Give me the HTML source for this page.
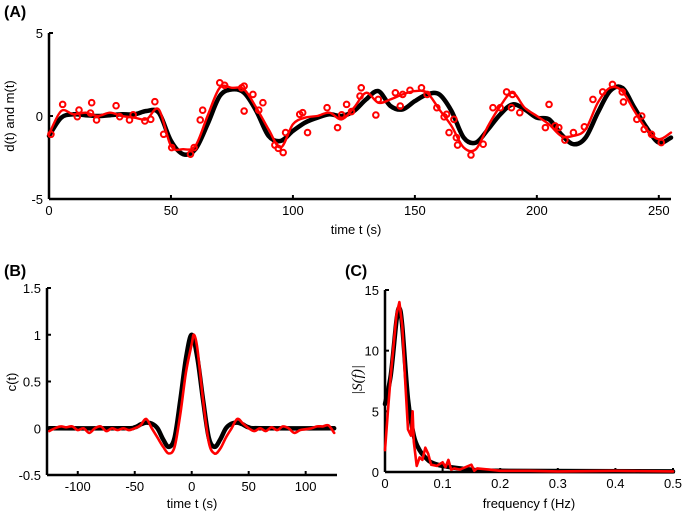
<!DOCTYPE html>
<html><head><meta charset="utf-8"><style>
body{margin:0;background:#fff}
svg{display:block;font-family:"Liberation Sans",Arial,sans-serif}
</style></head><body>
<svg id="c" width="685" height="520" viewBox="0 0 685 520"></svg>
<script>
// ---- Panel A data ----
const aBlackT=[0,5,10,15,20,25,30,35,40,45,50,55,60,65,70,75,80,85,90,95,100,105,110,115,120,125,130,135,140,145,150,155,160,165,170,175,180,185,190,195,200,205,210,215,220,225,230,235,240,245,250,255];
const aBlackV=[-1.2,-0.1,0.1,0.05,0,0.05,0.1,0.1,0.3,0.2,-1.5,-2.3,-2.0,-0.5,1.2,1.6,1.4,0.3,-1.2,-1.5,-0.9,-0.4,-0.1,0.1,0.0,0.3,1.0,1.5,0.6,0.4,0.9,1.3,1.3,0.3,-1.3,-1.6,-0.8,0.1,0.7,0.4,-0.1,-0.2,-1.1,-1.7,-1.3,0.2,1.5,1.7,0.5,-0.7,-1.6,-1.3];
const aRedV=[-1.1,0.3,0.1,0.2,0.0,0.2,0.0,-0.1,-0.2,0.4,-1.8,-2.0,-1.8,0,1.7,1.7,1.6,0.5,-0.8,-1.9,-0.5,-0.1,0.0,0.2,-0.2,0.5,1.4,0.8,1.0,1.3,1.5,1.4,0.4,-0.6,-1.9,-2.0,-0.6,0.6,1.4,0.5,0.0,-0.5,-1.2,-1.2,-0.8,0.8,1.7,1.5,0.3,-0.8,-1.4,-1.0];
const aPtT=[0.8,5.6,11.6,12.3,17.5,17,19.5,27.5,29,33,34.5,39.3,41.7,43.4,47,50.3,58,59.5,62,63,70,72,79,80,83.6,80,87.7,86,92.6,94,96,97,102.8,104,106,114,118.3,120,124,122,127.5,128,135,134,142,144,145,148,152.7,155,159,162,163,166,164,167,167.5,173,178,182,185,187.6,190,189.6,193,205,203.5,207.5,209,211.5,215,219.5,223,227,231,235,235.5,241,243,244,247,251];
const aPtV=[-1.1,0.7,-0.04,0.36,0.8,0.18,-0.24,0.62,-0.04,-0.24,0.07,-0.3,-0.2,0.86,-1.1,-1.9,-2.3,-1.9,-0.24,0.35,2.0,1.85,1.7,1.8,1.3,0.3,0.8,0.35,-1.75,-1.95,-2.2,-1.0,0.1,0.2,-1.0,0.5,-0.7,0.07,0.27,0.7,1.2,1.7,1.0,0.06,1.4,0.6,1.3,1.55,1.7,1.3,0.5,-0.05,0.1,-0.2,-1.0,-1.3,-1.75,-2.35,-1.7,0.5,0.5,1.45,1.3,0.5,0.2,0.7,-0.7,-0.6,-0.7,-1.45,-1.0,-0.65,1.0,1.45,1.9,1.45,0.85,-0.2,0,-0.8,-1.1,-1.6];
const aXTicks=[0,50,100,150,200,250];
const aYTicks=[-5,0,5];
// ---- Panel B data ----
const bBlackT=[-125,-60,-50,-45,-40,-35,-30,-25,-20,-15,-10,-5,0,5,10,15,20,25,30,35,40,45,50,60,125];
const bBlackV=[0,0,0.01,0.04,0.06,0.05,0,-0.12,-0.2,-0.1,0.3,0.75,1,0.75,0.3,-0.1,-0.2,-0.12,0,0.05,0.06,0.04,0.01,0,0];
const bRedT=[-125,-120,-115,-110,-105,-100,-95,-90,-85,-80,-75,-70,-65,-60,-55,-50,-45,-40,-35,-30,-25,-20,-15,-10,-5,0,2,5,10,15,20,25,30,35,40,45,50,55,60,65,70,75,80,85,90,95,100,105,110,115,120,125];
const bRedV=[-0.03,0,0.02,0.01,0.02,-0.02,0,-0.05,0,0.02,-0.03,0,-0.02,0,-0.02,0,0.03,0.1,0,-0.1,-0.2,-0.27,-0.2,0.15,0.6,0.9,1.0,0.85,0.3,-0.15,-0.27,-0.22,-0.1,0,0.1,0.05,0,-0.03,0,-0.03,0.01,-0.02,0.02,0,-0.05,-0.02,-0.01,0,0.02,0.02,0.03,-0.05];
const bXTicks=[-100,-50,0,50,100];
const bYTicks=[-0.5,0,0.5,1,1.5];
// ---- Panel C data ----
const cBlackF=[0,0.01,0.02,0.025,0.03,0.04,0.05,0.06,0.07,0.08,0.1,0.15,0.2,0.5];
const cBlackV=[5.6,8,12.5,13.5,12,6,3,1.8,1.2,0.8,0.5,0.2,0.1,0.05];
const cRedF=[0,0.005,0.01,0.02,0.025,0.03,0.035,0.04,0.045,0.048,0.05,0.055,0.06,0.065,0.07,0.075,0.08,0.09,0.1,0.105,0.11,0.115,0.12,0.13,0.15,0.155,0.16,0.18,0.2,0.25,0.3,0.4,0.5];
const cRedV=[1.8,5,8,13,14,12,7.5,3.5,3,5,2.5,0.5,1.2,1,2,1.5,0.6,0.5,0.8,0.4,1,0.2,0.3,0.2,0.6,0.1,0.3,0.2,0.1,0.1,0.05,0.1,0.05];
const cXTicks=[0,0.1,0.2,0.3,0.4,0.5];
const cYTicks=[0,5,10,15];

const NS="http://www.w3.org/2000/svg";
const svg=document.getElementById('c');
function mk(tag,attrs,parent){const e=document.createElementNS(NS,tag);for(const k in attrs)e.setAttribute(k,attrs[k]);(parent||svg).appendChild(e);return e;}
function lin(d0,d1,p0,p1){return v=>p0+(v-d0)*(p1-p0)/(d1-d0);}
function txt(s,x,y,anchor,size,extra){const t=mk('text',Object.assign({x:x,y:y,'text-anchor':anchor,'font-size':size,fill:'#000'},extra||{}));t.textContent=s;return t;}

function axes(name,x0,x1,y0,y1,sx,sy,xt,yt){
  const g=mk('g',{});
  
  
  mk('line',{x1:x0,y1:y1,x2:x0,y2:y0,stroke:'#000','stroke-width':2.5},g);
  mk('line',{x1:x0,y1:y1,x2:x1,y2:y1,stroke:'#000','stroke-width':2.5},g);
  xt.forEach(v=>{const x=sx(v);mk('line',{x1:x,y1:y1,x2:x,y2:y1-4,stroke:'#000','stroke-width':2},g);const t=txt(String(v),x,y1+16,'middle',13);g.appendChild(t);});
  yt.forEach(v=>{const y=sy(v);mk('line',{x1:x0,y1:y,x2:x0+4,y2:y,stroke:'#000','stroke-width':2},g);const t=txt(String(v),x0-6,y+5,'end',13);g.appendChild(t);});
}
function smoothPath(P){
  let d='M'+P[0][0].toFixed(1)+','+P[0][1].toFixed(1);
  for(let i=0;i<P.length-1;i++){
    const p0=P[Math.max(0,i-1)],p1=P[i],p2=P[i+1],p3=P[Math.min(P.length-1,i+2)];
    const c1=[p1[0]+(p2[0]-p0[0])/6,p1[1]+(p2[1]-p0[1])/6];
    const c2=[p2[0]-(p3[0]-p1[0])/6,p2[1]-(p3[1]-p1[1])/6];
    d+=' C'+c1[0].toFixed(1)+','+c1[1].toFixed(1)+' '+c2[0].toFixed(1)+','+c2[1].toFixed(1)+' '+p2[0].toFixed(1)+','+p2[1].toFixed(1);
  }
  return d;
}
function line(name,xs,ys,sx,sy,color,w,smooth){
  const P=xs.map((x,i)=>[sx(x),sy(ys[i])]);
  const p=mk('path',{d:smooth?smoothPath(P):'M'+P.map(q=>q[0].toFixed(1)+','+q[1].toFixed(1)).join(' L'),fill:'none',stroke:color,'stroke-width':w,'stroke-linejoin':'round','stroke-linecap':'round'});
  
  
}

// Panel A
const ax=lin(0,255,49,671), ay=lin(-5,5,199,33);
axes('panel-a',49,671,33,199,ax,ay,aXTicks,aYTicks);
line('panel-a-model-line',aBlackT,aBlackV,ax,ay,'#000',4.5,true);
line('panel-a-fit-line',aBlackT,aRedV,ax,ay,'#f00',2.4,true);
aPtT.forEach((t,i)=>{const c=mk('circle',{cx:ax(t),cy:ay(aPtV[i]),r:2.8,fill:'none',stroke:'#f00','stroke-width':2});

});
let t;
t=txt('(A)',4,17,'start',16,{'font-weight':'bold'});
t=txt('time t (s)',356,234,'middle',13);
t=txt('d(t) and  m(t)',0,0,'middle',13,{transform:'translate(14,116) rotate(-90)'});

// Panel B
const bx=lin(-127,127.5,47,337), by=lin(-0.5,1.5,475,288);
axes('panel-b',47,337,288,475,bx,by,bXTicks,bYTicks);
line('panel-b-model-line',bBlackT,bBlackV,bx,by,'#000',4.5,true);
line('panel-b-fit-line',bRedT,bRedV,bx,by,'#f00',2.6,true);
t=txt('(B)',4,276,'start',16,{'font-weight':'bold'});
t=txt('time t (s)',192,508,'middle',13);
t=txt('c(t)',0,0,'middle',13,{transform:'translate(16,382) rotate(-90)'});

// Panel C
const cx=lin(0,0.5,385,673), cy=lin(0,15,472,290);
axes('panel-c',385,675,290,472,cx,cy,cXTicks,cYTicks);
line('panel-c-model-line',cBlackF,cBlackV,cx,cy,'#000',4.5,true);
line('panel-c-fit-line',cRedF,cRedV,cx,cy,'#f00',2.6,false);
t=txt('(C)',345,276,'start',16,{'font-weight':'bold'});
t=txt('frequency f (Hz)',529,508,'middle',13);
t=txt('|S(f)|',0,0,'middle',15,{transform:'translate(362,380) rotate(-90)','font-style':'italic','font-family':'"Liberation Serif",serif'});
</script>
</body></html>
